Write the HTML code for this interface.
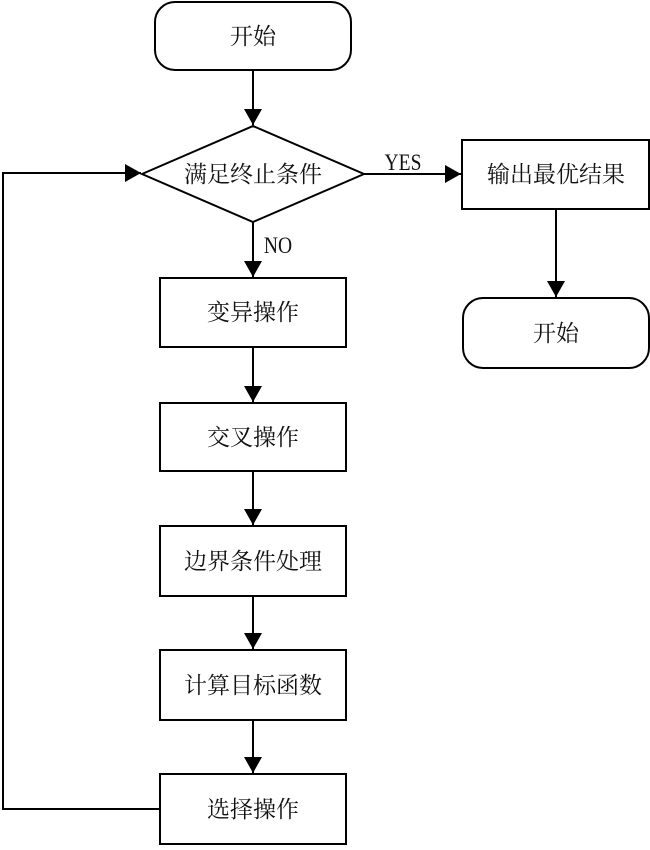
<!DOCTYPE html>
<html><head><meta charset="utf-8"><style>
html,body{margin:0;padding:0;background:#fff;}
svg text{font-family:"Liberation Serif","Noto Serif CJK SC",serif;font-size:23px;fill:#111;}
</style></head><body>
<svg width="650" height="845" viewBox="0 0 650 845" xmlns="http://www.w3.org/2000/svg">
<defs><marker id="a" markerWidth="10" markerHeight="10" refX="9" refY="5" orient="auto" markerUnits="userSpaceOnUse"><path d="M0,0 L10,5 L0,10 z" fill="#000"/></marker>
<marker id="b" markerWidth="16" markerHeight="18" refX="16" refY="9" orient="auto" markerUnits="userSpaceOnUse"><path d="M0,0 L16,9 L0,18 z" fill="#000"/></marker></defs>
<g fill="none" stroke="#000" stroke-width="2">
<rect x="155" y="2" width="196" height="68" rx="20"/>
<polygon points="142,174 253,126 364,174 253,222"/>
<rect x="462" y="140" width="187" height="69"/>
<rect x="463" y="298" width="186" height="70" rx="20"/>
<rect x="160" y="278" width="186" height="69"/>
<rect x="160" y="403" width="186" height="68"/>
<rect x="160" y="526" width="186" height="70"/>
<rect x="160" y="650" width="186" height="70"/>
<rect x="160" y="774" width="186" height="70"/>
<line x1="253" y1="70" x2="253" y2="125" marker-end="url(#b)"/>
<line x1="253" y1="222" x2="253" y2="277" marker-end="url(#b)"/>
<line x1="253" y1="347" x2="253" y2="402" marker-end="url(#b)"/>
<line x1="253" y1="471" x2="253" y2="525" marker-end="url(#b)"/>
<line x1="253" y1="596" x2="253" y2="649" marker-end="url(#b)"/>
<line x1="253" y1="720" x2="253" y2="773" marker-end="url(#b)"/>
<line x1="364" y1="174" x2="461" y2="174" marker-end="url(#b)"/>
<line x1="556" y1="209" x2="556" y2="297" marker-end="url(#b)"/>
<polyline points="160,809 3,809 3,173 141,173" marker-end="url(#b)"/>
</g>
<g text-anchor="middle">
<text x="253" y="44">开始</text>
<text x="253" y="182">满足终止条件</text>
<text x="556" y="182">输出最优结果</text>
<text x="556" y="341">开始</text>
<text x="253" y="320">变异操作</text>
<text x="253" y="445">交叉操作</text>
<text x="253" y="569">边界条件处理</text>
<text x="253" y="693">计算目标函数</text>
<text x="253" y="817">选择操作</text>
<text x="403" y="170" transform="translate(403 0) scale(0.85 1) translate(-403 0)">YES</text>
<text x="278" y="253" transform="translate(278 0) scale(0.85 1) translate(-278 0)">NO</text>
</g>
</svg>
</body></html>
